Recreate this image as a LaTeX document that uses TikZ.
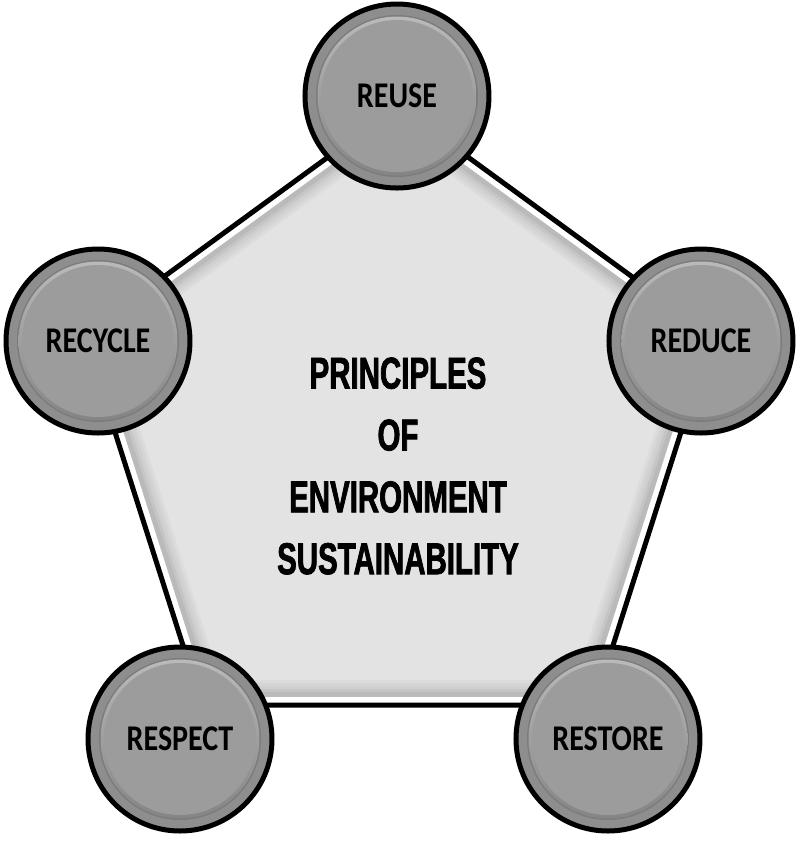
\documentclass[tikz,border=0pt]{standalone}
\usepackage{fontspec}
\usepackage{xcolor}
\usepackage{tikz}
\usetikzlibrary{shapes,positioning}

\newfontfamily\btnfont[FakeStretch=0.83]{Carlito}
\newfontfamily\titlefont[FakeStretch=0.66, FakeBold=1.6]{Liberation Sans}

\definecolor{padgray}{HTML}{E3E3E3}
\definecolor{ringgray}{HTML}{8E8E8E}
\definecolor{facegray}{HTML}{9C9C9C}
\definecolor{edgegray}{HTML}{7C7C7C}

\begin{document}
\begin{tikzpicture}[x=0.1mm, y=-0.1mm,
    principle/.style={circle, draw=black, line width=0.5mm, fill=ringgray,
        minimum size=18.4mm, inner sep=0pt,
        font=\btnfont\bfseries\fontsize{10.3}{12}\selectfont,
        path picture={
            \fill[edgegray] (path picture bounding box.center) circle (8.1mm);
            \shade[top color=facegray!70!white, bottom color=facegray!85!black]
                (path picture bounding box.center) circle (7.95mm);
            \fill[facegray] (path picture bounding box.center) circle (7.6mm);
        }},
    edge line/.style={line width=0.5mm, line join=round}]

    \useasboundingbox (0,0) rectangle (800,841);

    % pentagon corners
    \coordinate (ptop) at (398,106);
    \coordinate (pright) at (712,335);
    \coordinate (pbr) at (594,705);
    \coordinate (pbl) at (202,705);
    \coordinate (pleft) at (84,335);

    \fill[padgray] (ptop) -- (pright) -- (pbr) -- (pbl) -- (pleft) -- cycle;
    \begin{scope}
        \clip (ptop) -- (pright) -- (pbr) -- (pbl) -- (pleft) -- cycle;
        \foreach \w/\c in {5.0/3, 4.4/6, 3.8/9, 3.2/13, 2.6/18}
            \draw[line width=\w mm, black!\c!padgray]
                (ptop) -- (pright) -- (pbr) -- (pbl) -- (pleft) -- cycle;
        \draw[line width=1.6mm, white]
            (ptop) -- (pright) -- (pbr) -- (pbl) -- (pleft) -- cycle;
    \end{scope}
    \draw[edge line] (ptop) -- (pright) -- (pbr) -- (pbl) -- (pleft) -- cycle;

    % the five principles
    \node[principle] (reuse) at (397,96) {REUSE};
    \node[principle] (reduce) at (701,341) {REDUCE};
    \node[principle] (restore) at (608,739) {RESTORE};
    \node[principle] (respect) at (180,739) {RESPECT};
    \node[principle] (recycle) at (98,341) {RECYCLE};

    \node[align=center, font=\titlefont\bfseries\fontsize{12.7}{17.6}\selectfont]
        (title) at (398,466) {PRINCIPLES\\OF\\ENVIRONMENT\\SUSTAINABILITY};
\end{tikzpicture}
\end{document}
